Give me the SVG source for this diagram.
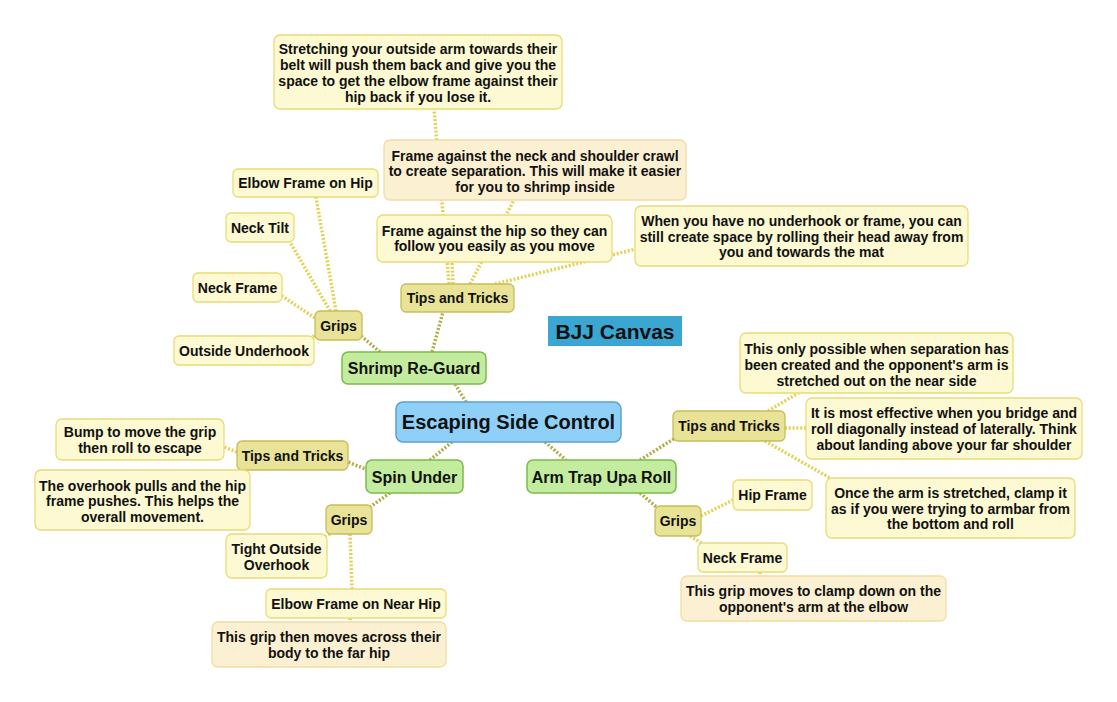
<svg xmlns="http://www.w3.org/2000/svg" width="1117" height="702" viewBox="0 0 1117 702">
<style>
text{font-family:"Liberation Sans",Arial,sans-serif;font-weight:bold;font-size:14px;fill:#111;text-anchor:middle}
.leaf{fill:#fdf9d3;stroke:#e8dc78;stroke-width:1.3}
.note{fill:#fcf0d2;stroke:#f0dda4;stroke-width:1.3}
.tip{fill:#e9e397;stroke:#c7bd5a;stroke-width:1.3}
.main{fill:#c3ec9f;stroke:#7bbb4c;stroke-width:1.5}
.root{fill:#8fd0f8;stroke:#5d9fd0;stroke-width:1.5}
.c{fill:none;stroke:#e2d256;stroke-width:3.5;stroke-dasharray:2 1.8}
.cg{fill:none;stroke:#b3ac48;stroke-width:3.5;stroke-dasharray:2 1.8}
.t16{font-size:16px}
.t20{font-size:20px}
</style>
<rect width="1117" height="702" fill="#ffffff"/>
<g id="connectors">
<path class="cg" d="M466 402L455 384"/>
<path class="cg" d="M452 442L430 460"/>
<path class="cg" d="M545 442L566 460"/>
<path class="cg" d="M380 352L360 335"/>
<path class="cg" d="M432 352L443 312"/>
<path class="c" d="M336 311L316 197"/>
<path class="c" d="M330 311L290 242"/>
<path class="c" d="M318 320L282 296"/>
<path class="c" d="M318 334L306 340"/>
<path class="c" d="M449 284L434 109"/>
<path class="c" d="M470 284L514 200"/>
<path class="c" d="M453 284L452 262"/>
<path class="c" d="M495 284L640 248"/>
<path class="cg" d="M368 470L348 462"/>
<path class="c" d="M237 452L224 447"/>
<path class="c" d="M245 470L240 473"/>
<path class="cg" d="M390 493L370 507"/>
<path class="c" d="M330 534L322 538"/>
<path class="c" d="M350 534L352 589"/>
<path class="c" d="M350 618L350 622"/>
<path class="cg" d="M640 460L680 435"/>
<path class="cg" d="M640 493L660 510"/>
<path class="c" d="M768 411L800 392"/>
<path class="c" d="M785 428L806 428"/>
<path class="c" d="M765 441L830 478"/>
<path class="c" d="M701 516L733 500"/>
<path class="c" d="M690 536L703 544"/>
<path class="c" d="M760 572L760 576"/>
</g>
<g id="n-stretch"><rect class="leaf" x="274" y="35" width="288" height="74" rx="6"/><text x="418" y="54">Stretching your outside arm towards their</text><text x="418" y="70">belt will push them back and give you the</text><text x="418" y="86">space to get the elbow frame against their</text><text x="418" y="102">hip back if you lose it.</text></g>
<g id="n-neckcrawl"><rect class="note" x="384" y="140" width="302" height="60" rx="6"/><text x="535" y="161">Frame against the neck and shoulder crawl</text><text x="535" y="176">to create separation. This will make it easier</text><text x="535" y="192">for you to shrimp inside</text></g>
<g id="n-hipframe"><rect class="leaf" x="377" y="215" width="235" height="47" rx="6"/><text x="494.5" y="236">Frame against the hip so they can</text><text x="494.5" y="251">follow you easily as you move</text></g>
<g id="n-noframe"><rect class="leaf" x="635" y="206" width="333" height="60" rx="6"/><text x="801.5" y="226">When you have no underhook or frame, you can</text><text x="801.5" y="242">still create space by rolling their head away from</text><text x="801.5" y="257">you and towards the mat</text></g>
<g id="n-tips1"><rect class="tip" x="401" y="284" width="113" height="28" rx="5"/><text x="457.5" y="303">Tips and Tricks</text></g>
<g id="n-title"><rect x="548" y="316" width="134" height="30" fill="#3aa6d2"/><text x="615" y="339" style="font-size:21px">BJJ Canvas</text></g>
<g id="n-elbowhip"><rect class="leaf" x="233" y="169" width="145" height="28" rx="5"/><text x="305.5" y="188">Elbow Frame on Hip</text></g>
<g id="n-necktilt"><rect class="leaf" x="226" y="213" width="68" height="29" rx="5"/><text x="260" y="233">Neck Tilt</text></g>
<g id="n-neckframe1"><rect class="leaf" x="193" y="273" width="89" height="29" rx="5"/><text x="237.5" y="293">Neck Frame</text></g>
<g id="n-grips1"><rect class="tip" x="315" y="311" width="47" height="29" rx="5"/><text x="338.5" y="331">Grips</text></g>
<g id="n-underhook"><rect class="leaf" x="174" y="336" width="140" height="29" rx="5"/><text x="244" y="356">Outside Underhook</text></g>
<g id="n-shrimp"><rect class="main" x="342" y="352" width="144" height="32" rx="6"/><text class="t16" x="414" y="374">Shrimp Re-Guard</text></g>
<g id="n-root"><rect class="root" x="396" y="402" width="225" height="40" rx="7"/><text class="t20" x="508.5" y="429">Escaping Side Control</text></g>
<g id="n-bump"><rect class="leaf" x="56" y="419" width="168" height="41" rx="6"/><text x="140" y="437">Bump to move the grip</text><text x="140" y="453">then roll to escape</text></g>
<g id="n-tips2"><rect class="tip" x="237" y="441" width="111" height="29" rx="5"/><text x="292.5" y="461">Tips and Tricks</text></g>
<g id="n-spin"><rect class="main" x="366" y="460" width="97" height="33" rx="6"/><text class="t16" x="414.5" y="482.5">Spin Under</text></g>
<g id="n-overhookpull"><rect class="leaf" x="35" y="470" width="215" height="60" rx="6"/><text x="142.5" y="491">The overhook pulls and the hip</text><text x="142.5" y="506">frame pushes. This helps the</text><text x="142.5" y="522">overall movement.</text></g>
<g id="n-grips2"><rect class="tip" x="326" y="505" width="46" height="29" rx="5"/><text x="349" y="525">Grips</text></g>
<g id="n-tightover"><rect class="leaf" x="226" y="534" width="101" height="44" rx="6"/><text x="276.5" y="554">Tight Outside</text><text x="276.5" y="570">Overhook</text></g>
<g id="n-elbownear"><rect class="leaf" x="266" y="589" width="180" height="29" rx="5"/><text x="356" y="609">Elbow Frame on Near Hip</text></g>
<g id="n-gripmoves"><rect class="note" x="212" y="622" width="234" height="45" rx="6"/><text x="329" y="642">This grip then moves across their</text><text x="329" y="658">body to the far hip</text></g>
<g id="n-armtrap"><rect class="main" x="527" y="460" width="149" height="33" rx="6"/><text class="t16" x="601.5" y="482.5">Arm Trap Upa Roll</text></g>
<g id="n-tips3"><rect class="tip" x="673" y="411" width="112" height="30" rx="5"/><text x="729" y="431">Tips and Tricks</text></g>
<g id="n-onlypossible"><rect class="leaf" x="740" y="333" width="273" height="60" rx="6"/><text x="876.5" y="354">This only possible when separation has</text><text x="876.5" y="370">been created and the opponent's arm is</text><text x="876.5" y="386">stretched out on the near side</text></g>
<g id="n-effective"><rect class="leaf" x="806" y="398" width="276" height="61" rx="6"/><text x="944" y="418">It is most effective when you bridge and</text><text x="944" y="434">roll diagonally instead of laterally. Think</text><text x="944" y="450">about landing above your far shoulder</text></g>
<g id="n-clamp"><rect class="leaf" x="826" y="478" width="249" height="60" rx="6"/><text x="950.5" y="498">Once the arm is stretched, clamp it</text><text x="950.5" y="514">as if you were trying to armbar from</text><text x="950.5" y="529">the bottom and roll</text></g>
<g id="n-grips3"><rect class="tip" x="655" y="506" width="46" height="30" rx="5"/><text x="678" y="526">Grips</text></g>
<g id="n-hipframe2"><rect class="leaf" x="733" y="480" width="79" height="30" rx="5"/><text x="772.5" y="500">Hip Frame</text></g>
<g id="n-neckframe2"><rect class="leaf" x="698" y="543" width="89" height="29" rx="5"/><text x="742.5" y="563">Neck Frame</text></g>
<g id="n-clampdown"><rect class="note" x="681" y="576" width="265" height="45" rx="6"/><text x="813.5" y="596">This grip moves to clamp down on the</text><text x="813.5" y="612">opponent's arm at the elbow</text></g>
</svg>
